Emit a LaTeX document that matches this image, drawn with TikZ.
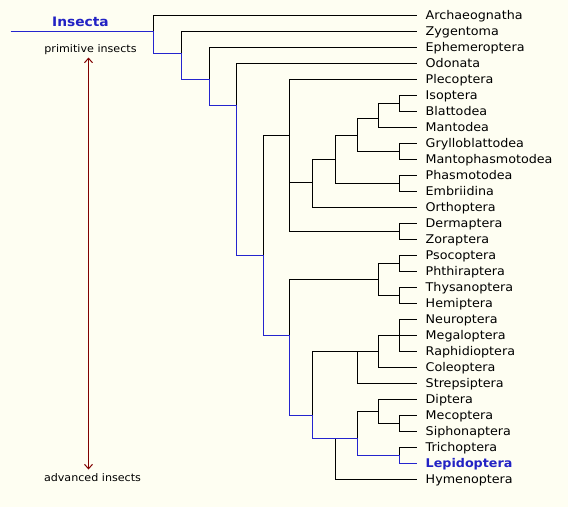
\documentclass[tikz,border=0pt]{standalone}
\usepackage{fontspec}
\setmainfont{DejaVu Sans}[FakeStretch=1.06]
\usetikzlibrary{arrows.meta}
\definecolor{bg}{RGB}{254,254,242}
\definecolor{tblue}{RGB}{34,34,196}
\definecolor{lblue}{RGB}{36,36,206}
\definecolor{dred}{RGB}{128,0,0}
\begin{document}
\begin{tikzpicture}[x=1pt,y=-1pt,
  blackedge/.style={draw=black, line width=1pt},
  blueedge/.style={draw=lblue, line width=1.35pt},
  lab/.style={anchor=base west, inner sep=0pt, font=\fontsize{12}{14}\selectfont},
  labb/.style={lab, text=tblue, font=\fontsize{12}{14}\selectfont\bfseries},
  side/.style={anchor=base, inner sep=0pt, font=\fontsize{10.5}{12}\selectfont}]
\fill[bg] (0,0) rectangle (568,507);
\useasboundingbox (0,0) rectangle (568,507);
\begin{scope}[shift={(0.5,0.5)}]
% leaves
\foreach \n/\s [count=\i from 0] in {Archaeognatha/lab,Zygentoma/lab,Ephemeroptera/lab,Odonata/lab,Plecoptera/lab,Isoptera/lab,Blattodea/lab,Mantodea/lab,Grylloblattodea/lab,Mantophasmotodea/lab,Phasmotodea/lab,Embriidina/lab,Orthoptera/lab,Dermaptera/lab,Zoraptera/lab,Psocoptera/lab,Phthiraptera/lab,Thysanoptera/lab,Hemiptera/lab,Neuroptera/lab,Megaloptera/lab,Raphidioptera/lab,Coleoptera/lab,Strepsiptera/lab,Diptera/lab,Mecoptera/lab,Siphonaptera/lab,Trichoptera/lab,Lepidoptera/labb,Hymenoptera/lab}{
  \coordinate (e\i) at (416,{15+16*\i});
  \node[\s] (t\i) at (425,{19+16*\i}) {\n};
}
% internal nodes
\coordinate (R) at (10,31);
\coordinate (n1) at (153,31);
\coordinate (n2) at (181,53);
\coordinate (n3) at (209,79);
\coordinate (n4) at (236,105);
\coordinate (n5) at (263,255);
\coordinate (n6) at (289,135);
\coordinate (n7) at (312,182);
\coordinate (n8) at (335,159);
\coordinate (n9) at (357,135);
\coordinate (n10) at (378,118);
\coordinate (ib) at (399,103);
\coordinate (gm) at (399,151);
\coordinate (pe) at (399,183);
\coordinate (dz) at (399,231);
\coordinate (n12) at (289,335);
\coordinate (n13) at (378,279);
\coordinate (pp) at (399,263);
\coordinate (th) at (399,295);
\coordinate (n14) at (312,415);
\coordinate (n15) at (357,351);
\coordinate (n16) at (378,351);
\coordinate (n17) at (399,335);
\coordinate (n20) at (335,438);
\coordinate (n21) at (357,438);
\coordinate (n22) at (378,411);
\coordinate (ms) at (399,423);
\coordinate (tl) at (399,455);
% black branches
\draw[blackedge] (n1) |- (e0);
\draw[blackedge] (n2) |- (e1);
\draw[blackedge] (n3) |- (e2);
\draw[blackedge] (n4) |- (e3);
\draw[blackedge] (n5) |- (n6);
\draw[blackedge] (n6) |- (e4);
\draw[blackedge] (n6) |- (n7);
\draw[blackedge] (n6) |- (dz);
\draw[blackedge] (n7) |- (n8);
\draw[blackedge] (n7) |- (e12);
\draw[blackedge] (n8) |- (n9);
\draw[blackedge] (n8) |- (pe);
\draw[blackedge] (n9) |- (n10);
\draw[blackedge] (n9) |- (gm);
\draw[blackedge] (n10) |- (ib);
\draw[blackedge] (n10) |- (e7);
\draw[blackedge] (ib) |- (e5);
\draw[blackedge] (ib) |- (e6);
\draw[blackedge] (gm) |- (e8);
\draw[blackedge] (gm) |- (e9);
\draw[blackedge] (pe) |- (e10);
\draw[blackedge] (pe) |- (e11);
\draw[blackedge] (dz) |- (e13);
\draw[blackedge] (dz) |- (e14);
\draw[blackedge] (n12) |- (n13);
\draw[blackedge] (n13) |- (pp);
\draw[blackedge] (n13) |- (th);
\draw[blackedge] (pp) |- (e15);
\draw[blackedge] (pp) |- (e16);
\draw[blackedge] (th) |- (e17);
\draw[blackedge] (th) |- (e18);
\draw[blackedge] (n14) |- (n15);
\draw[blackedge] (n15) |- (n16);
\draw[blackedge] (n15) |- (e23);
\draw[blackedge] (n16) |- (n17);
\draw[blackedge] (n16) |- (e22);
\draw[blackedge] (n17) |- (e19);
\draw[blackedge] (n17) |- (e20);
\draw[blackedge] (n17) |- (e21);
\draw[blackedge] (n20) |- (e29);
\draw[blackedge] (n21) |- (n22);
\draw[blackedge] (n22) |- (e24);
\draw[blackedge] (n22) |- (ms);
\draw[blackedge] (ms) |- (e25);
\draw[blackedge] (ms) |- (e26);
\draw[blackedge] (tl) |- (e27);
% blue lineage
\draw[blueedge] (R) -- (n1) |- (n2) |- (n3) |- (n4) |- (n5) |- (n12) |- (n14) |- (n20) -- (n21) |- (tl) |- (e28);
% side labels and arrow
\node[anchor=base, inner sep=0pt, text=tblue, font=\fontsize{13}{15}\selectfont\bfseries] (ins) at (80,26) {Insecta};
\node[side] (prim) at (90,52) {primitive insects};
\node[side] (adv) at (92,481) {advanced insects};
\coordinate (atop) at (88,57);
\coordinate (abot) at (88,469);
\draw[dred, line width=1pt, {Straight Barb[length=4.5pt,width=8pt]}-{Straight Barb[length=4.5pt,width=8pt]}] (atop) -- (abot);
\end{scope}
\end{tikzpicture}
\end{document}
